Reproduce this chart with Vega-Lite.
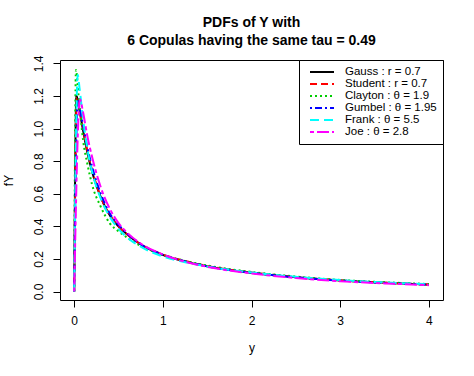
{
  "$schema": "https://vega.github.io/schema/vega-lite/v6.json",
  "autosize": {"type": "none"},
  "padding": {"left": 60, "top": 60, "right": 31, "bottom": 76},
  "width": 383,
  "height": 240,
  "title": {
    "text": ["PDFs of Y with", "\u00a0\u00a0\u00a0\u00a0\u00a06 Copulas having the same tau = 0.49"],
    "font": "Liberation Sans",
    "fontSize": 14,
    "fontWeight": "bold",
    "lineHeight": 18,
    "anchor": "middle",
    "frame": "group",
    "offset": 7,
    "color": "black"
  },
  "config": {
    "view": {"stroke": "black", "strokeWidth": 1},
    "axis": {
      "labelFont": "Liberation Sans",
      "titleFont": "Liberation Sans",
      "labelFontSize": 12,
      "titleFontSize": 12,
      "titleFontWeight": "normal",
      "labelColor": "black",
      "titleColor": "black",
      "tickColor": "black",
      "tickSize": 7,
      "domain": false,
      "grid": false
    },
    "legend": {
      "labelFont": "Liberation Sans",
      "labelFontSize": 11.5,
      "labelColor": "black",
      "strokeColor": "black",
      "fillColor": "white",
      "padding": 6,
      "offset": 0
    }
  },
  "datasets": {
    "pdf": [
      {"c": "Gauss : r = 0.7", "y": 0, "f": 0},
      {"c": "Gauss : r = 0.7", "y": 0.025, "f": 1.2},
      {"c": "Gauss : r = 0.7", "y": 0.05, "f": 1.14},
      {"c": "Gauss : r = 0.7", "y": 0.1, "f": 0.99},
      {"c": "Gauss : r = 0.7", "y": 0.15, "f": 0.85},
      {"c": "Gauss : r = 0.7", "y": 0.2, "f": 0.74},
      {"c": "Gauss : r = 0.7", "y": 0.3, "f": 0.58},
      {"c": "Gauss : r = 0.7", "y": 0.4, "f": 0.47},
      {"c": "Gauss : r = 0.7", "y": 0.5, "f": 0.4},
      {"c": "Gauss : r = 0.7", "y": 0.6, "f": 0.35},
      {"c": "Gauss : r = 0.7", "y": 0.75, "f": 0.29},
      {"c": "Gauss : r = 0.7", "y": 1, "f": 0.225},
      {"c": "Gauss : r = 0.7", "y": 1.25, "f": 0.185},
      {"c": "Gauss : r = 0.7", "y": 1.5, "f": 0.155},
      {"c": "Gauss : r = 0.7", "y": 2, "f": 0.115},
      {"c": "Gauss : r = 0.7", "y": 2.5, "f": 0.088},
      {"c": "Gauss : r = 0.7", "y": 3, "f": 0.068},
      {"c": "Gauss : r = 0.7", "y": 3.5, "f": 0.054},
      {"c": "Gauss : r = 0.7", "y": 4, "f": 0.043},

      {"c": "Student : r = 0.7", "y": 0, "f": 0},
      {"c": "Student : r = 0.7", "y": 0.03, "f": 1.19},
      {"c": "Student : r = 0.7", "y": 0.05, "f": 1.14},
      {"c": "Student : r = 0.7", "y": 0.1, "f": 1.0},
      {"c": "Student : r = 0.7", "y": 0.15, "f": 0.86},
      {"c": "Student : r = 0.7", "y": 0.2, "f": 0.75},
      {"c": "Student : r = 0.7", "y": 0.3, "f": 0.58},
      {"c": "Student : r = 0.7", "y": 0.4, "f": 0.47},
      {"c": "Student : r = 0.7", "y": 0.5, "f": 0.4},
      {"c": "Student : r = 0.7", "y": 0.6, "f": 0.35},
      {"c": "Student : r = 0.7", "y": 0.75, "f": 0.29},
      {"c": "Student : r = 0.7", "y": 1, "f": 0.228},
      {"c": "Student : r = 0.7", "y": 1.25, "f": 0.187},
      {"c": "Student : r = 0.7", "y": 1.5, "f": 0.157},
      {"c": "Student : r = 0.7", "y": 2, "f": 0.117},
      {"c": "Student : r = 0.7", "y": 2.5, "f": 0.089},
      {"c": "Student : r = 0.7", "y": 3, "f": 0.068},
      {"c": "Student : r = 0.7", "y": 3.5, "f": 0.054},
      {"c": "Student : r = 0.7", "y": 4, "f": 0.043},

      {"c": "Clayton : θ = 1.9", "y": 0, "f": 0},
      {"c": "Clayton : θ = 1.9", "y": 0.02, "f": 1.36},
      {"c": "Clayton : θ = 1.9", "y": 0.05, "f": 1.2},
      {"c": "Clayton : θ = 1.9", "y": 0.1, "f": 0.93},
      {"c": "Clayton : θ = 1.9", "y": 0.15, "f": 0.78},
      {"c": "Clayton : θ = 1.9", "y": 0.2, "f": 0.66},
      {"c": "Clayton : θ = 1.9", "y": 0.3, "f": 0.52},
      {"c": "Clayton : θ = 1.9", "y": 0.4, "f": 0.42},
      {"c": "Clayton : θ = 1.9", "y": 0.5, "f": 0.37},
      {"c": "Clayton : θ = 1.9", "y": 0.6, "f": 0.33},
      {"c": "Clayton : θ = 1.9", "y": 0.75, "f": 0.28},
      {"c": "Clayton : θ = 1.9", "y": 1, "f": 0.225},
      {"c": "Clayton : θ = 1.9", "y": 1.25, "f": 0.188},
      {"c": "Clayton : θ = 1.9", "y": 1.5, "f": 0.16},
      {"c": "Clayton : θ = 1.9", "y": 2, "f": 0.12},
      {"c": "Clayton : θ = 1.9", "y": 2.5, "f": 0.092},
      {"c": "Clayton : θ = 1.9", "y": 3, "f": 0.071},
      {"c": "Clayton : θ = 1.9", "y": 3.5, "f": 0.057},
      {"c": "Clayton : θ = 1.9", "y": 4, "f": 0.046},

      {"c": "Gumbel : θ = 1.95", "y": 0, "f": 0},
      {"c": "Gumbel : θ = 1.95", "y": 0.04, "f": 1.17},
      {"c": "Gumbel : θ = 1.95", "y": 0.06, "f": 1.13},
      {"c": "Gumbel : θ = 1.95", "y": 0.1, "f": 1.02},
      {"c": "Gumbel : θ = 1.95", "y": 0.15, "f": 0.88},
      {"c": "Gumbel : θ = 1.95", "y": 0.2, "f": 0.77},
      {"c": "Gumbel : θ = 1.95", "y": 0.3, "f": 0.6},
      {"c": "Gumbel : θ = 1.95", "y": 0.4, "f": 0.48},
      {"c": "Gumbel : θ = 1.95", "y": 0.5, "f": 0.41},
      {"c": "Gumbel : θ = 1.95", "y": 0.6, "f": 0.355},
      {"c": "Gumbel : θ = 1.95", "y": 0.75, "f": 0.29},
      {"c": "Gumbel : θ = 1.95", "y": 1, "f": 0.226},
      {"c": "Gumbel : θ = 1.95", "y": 1.25, "f": 0.185},
      {"c": "Gumbel : θ = 1.95", "y": 1.5, "f": 0.155},
      {"c": "Gumbel : θ = 1.95", "y": 2, "f": 0.115},
      {"c": "Gumbel : θ = 1.95", "y": 2.5, "f": 0.087},
      {"c": "Gumbel : θ = 1.95", "y": 3, "f": 0.067},
      {"c": "Gumbel : θ = 1.95", "y": 3.5, "f": 0.053},
      {"c": "Gumbel : θ = 1.95", "y": 4, "f": 0.042},

      {"c": "Frank : θ = 5.5", "y": 0, "f": 0},
      {"c": "Frank : θ = 5.5", "y": 0.04, "f": 1.33},
      {"c": "Frank : θ = 5.5", "y": 0.06, "f": 1.25},
      {"c": "Frank : θ = 5.5", "y": 0.1, "f": 1.06},
      {"c": "Frank : θ = 5.5", "y": 0.15, "f": 0.87},
      {"c": "Frank : θ = 5.5", "y": 0.2, "f": 0.74},
      {"c": "Frank : θ = 5.5", "y": 0.3, "f": 0.57},
      {"c": "Frank : θ = 5.5", "y": 0.4, "f": 0.46},
      {"c": "Frank : θ = 5.5", "y": 0.5, "f": 0.385},
      {"c": "Frank : θ = 5.5", "y": 0.6, "f": 0.33},
      {"c": "Frank : θ = 5.5", "y": 0.75, "f": 0.275},
      {"c": "Frank : θ = 5.5", "y": 1, "f": 0.215},
      {"c": "Frank : θ = 5.5", "y": 1.25, "f": 0.18},
      {"c": "Frank : θ = 5.5", "y": 1.5, "f": 0.153},
      {"c": "Frank : θ = 5.5", "y": 2, "f": 0.117},
      {"c": "Frank : θ = 5.5", "y": 2.5, "f": 0.09},
      {"c": "Frank : θ = 5.5", "y": 3, "f": 0.07},
      {"c": "Frank : θ = 5.5", "y": 3.5, "f": 0.056},
      {"c": "Frank : θ = 5.5", "y": 4, "f": 0.045},

      {"c": "Joe : θ = 2.8", "y": 0, "f": 0},
      {"c": "Joe : θ = 2.8", "y": 0.065, "f": 1.18},
      {"c": "Joe : θ = 2.8", "y": 0.1, "f": 1.1},
      {"c": "Joe : θ = 2.8", "y": 0.15, "f": 0.95},
      {"c": "Joe : θ = 2.8", "y": 0.2, "f": 0.83},
      {"c": "Joe : θ = 2.8", "y": 0.3, "f": 0.64},
      {"c": "Joe : θ = 2.8", "y": 0.4, "f": 0.51},
      {"c": "Joe : θ = 2.8", "y": 0.5, "f": 0.42},
      {"c": "Joe : θ = 2.8", "y": 0.6, "f": 0.36},
      {"c": "Joe : θ = 2.8", "y": 0.75, "f": 0.295},
      {"c": "Joe : θ = 2.8", "y": 1, "f": 0.228},
      {"c": "Joe : θ = 2.8", "y": 1.25, "f": 0.183},
      {"c": "Joe : θ = 2.8", "y": 1.5, "f": 0.152},
      {"c": "Joe : θ = 2.8", "y": 2, "f": 0.111},
      {"c": "Joe : θ = 2.8", "y": 2.5, "f": 0.083},
      {"c": "Joe : θ = 2.8", "y": 3, "f": 0.063},
      {"c": "Joe : θ = 2.8", "y": 3.5, "f": 0.05},
      {"c": "Joe : θ = 2.8", "y": 4, "f": 0.039}
    ]
  },
  "data": {"name": "pdf"},
  "mark": {"type": "line", "strokeWidth": 2, "interpolate": "monotone", "clip": true},
  "encoding": {
    "x": {
      "field": "y", "type": "quantitative",
      "scale": {"domain": [-0.16, 4.16], "nice": false, "zero": false},
      "axis": {"values": [0, 1, 2, 3, 4], "format": "d", "title": "y", "labelPadding": 8, "titlePadding": 16}
    },
    "y": {
      "field": "f", "type": "quantitative",
      "scale": {"domain": [-0.052, 1.421], "nice": false, "zero": false},
      "axis": {
        "values": [0, 0.2, 0.4, 0.6, 0.8, 1.0, 1.2, 1.4], "format": ".1f",
        "labelAngle": -90, "labelAlign": "center", "labelBaseline": "bottom", "labelPadding": 8,
        "title": "fY", "titlePadding": 17
      }
    },
    "color": {
      "field": "c", "type": "nominal",
      "scale": {
        "domain": ["Gauss : r = 0.7", "Student : r = 0.7", "Clayton : θ = 1.9", "Gumbel : θ = 1.95", "Frank : θ = 5.5", "Joe : θ = 2.8"],
        "range": ["#000000", "#FF0000", "#00CD00", "#0000FF", "#00FFFF", "#FF00FF"]
      },
      "legend": {"title": null, "orient": "top-right", "symbolType": "M-2.4,0H2.4", "symbolStrokeWidth": 2, "symbolSize": 100, "symbolOffset": 11, "labelOffset": 17, "rowPadding": 0}
    },
    "strokeDash": {
      "field": "c", "type": "nominal",
      "scale": {
        "domain": ["Gauss : r = 0.7", "Student : r = 0.7", "Clayton : θ = 1.9", "Gumbel : θ = 1.95", "Frank : θ = 5.5", "Joe : θ = 2.8"],
        "range": [[1, 0], [7, 4], [2, 3], [2, 3, 7, 3], [9, 5], [4, 3, 12, 3]]
      },
      "legend": {"title": null, "orient": "top-right", "symbolType": "M-2.4,0H2.4", "symbolStrokeWidth": 2, "symbolSize": 100, "symbolOffset": 11, "labelOffset": 17, "rowPadding": 0}
    },
    "order": {"field": "y", "type": "quantitative"}
  }
}
